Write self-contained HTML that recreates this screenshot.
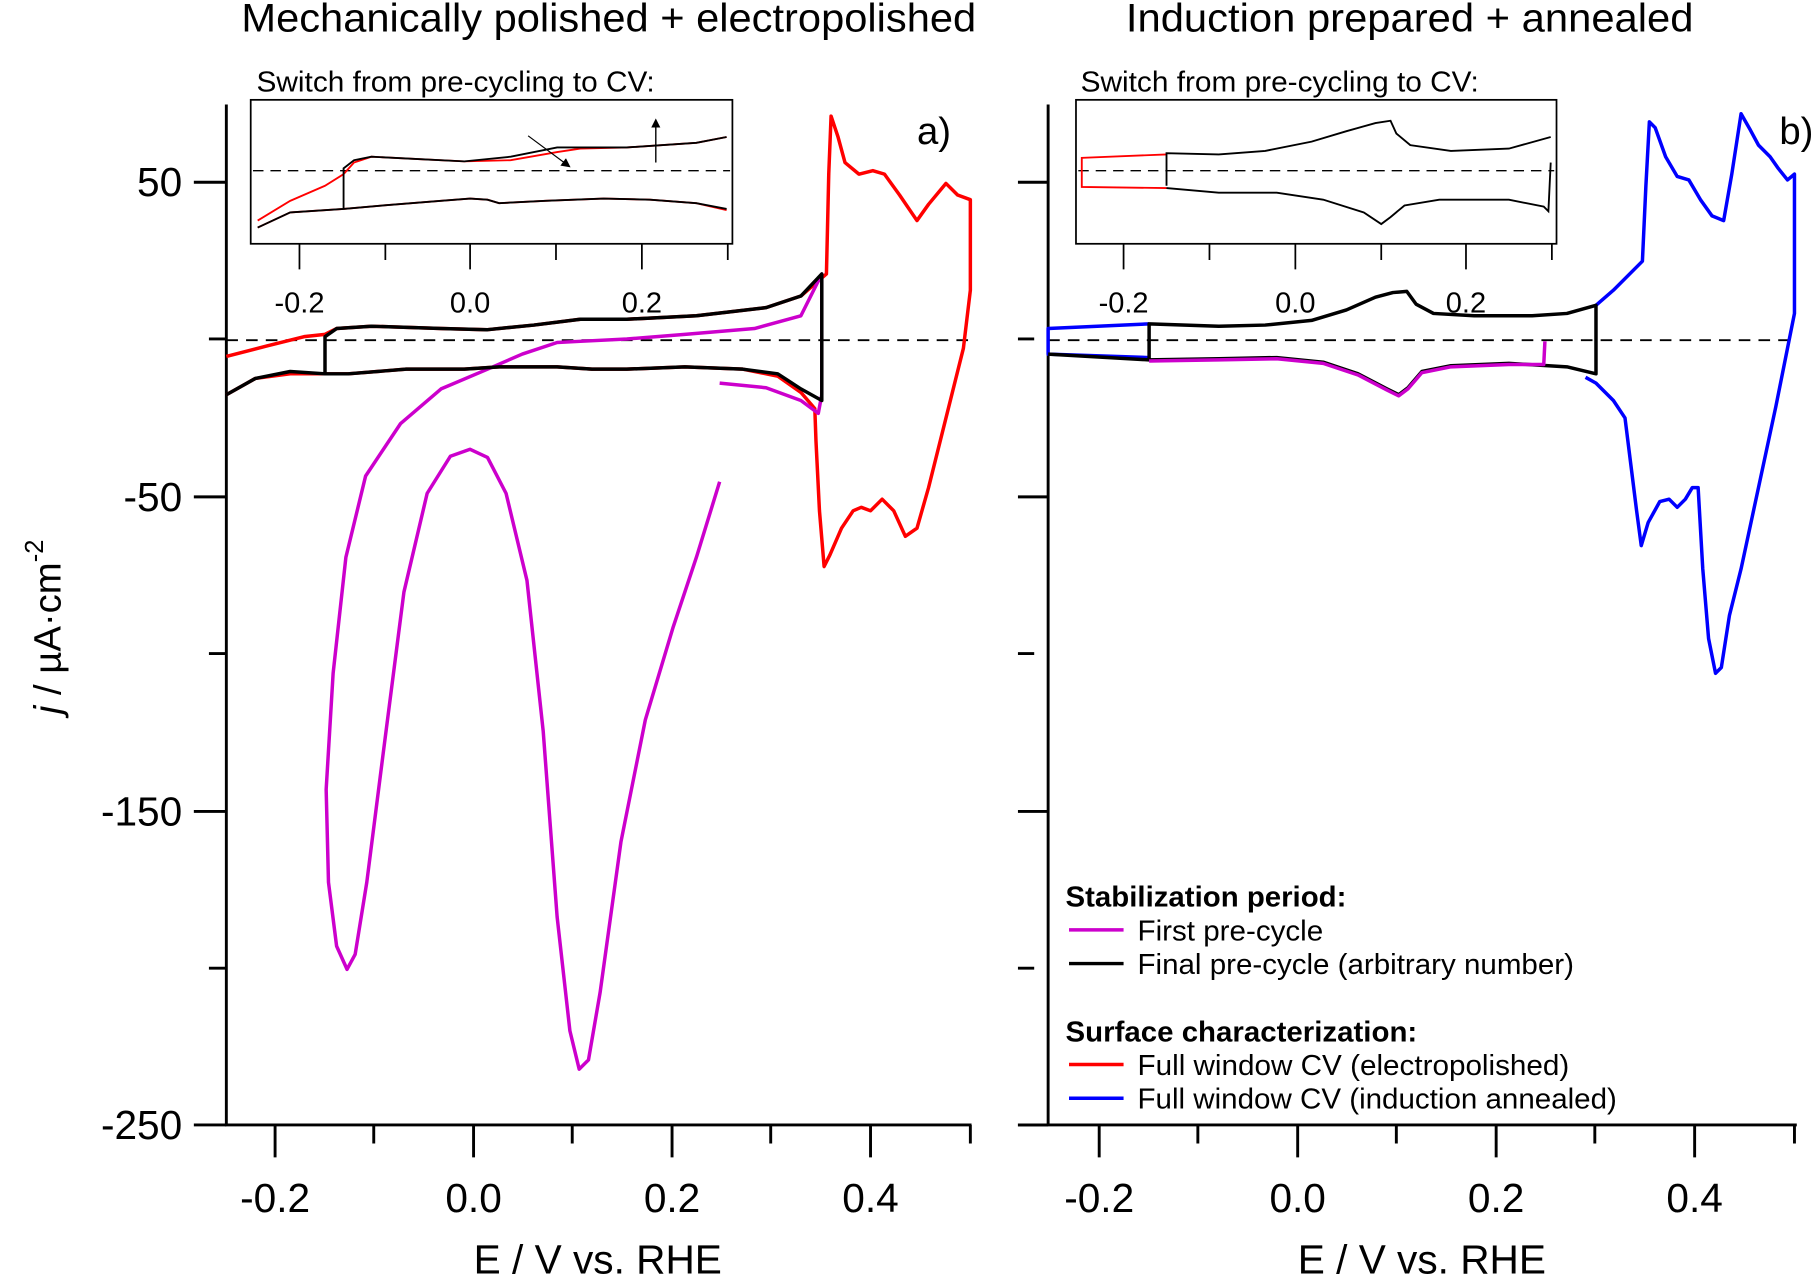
<!DOCTYPE html>
<html><head><meta charset="utf-8"><style>
html,body{margin:0;padding:0;background:#fff;}
svg{display:block;font-family:"Liberation Sans",Arial,sans-serif;}
</style></head><body>
<svg width="1820" height="1277" viewBox="0 0 1568 1100" preserveAspectRatio="none" xmlns="http://www.w3.org/2000/svg">
<defs><marker id="ah" markerWidth="8" markerHeight="8" refX="6" refY="4" orient="auto" markerUnits="userSpaceOnUse"><path d="M0,0 L8,4 L0,8 z" fill="#000"/></marker></defs>
<g fill="#000">
<text x="208" y="27" font-size="34" textLength="633" lengthAdjust="spacingAndGlyphs">Mechanically polished + electropolished</text>
<text x="970" y="27" font-size="34" textLength="489" lengthAdjust="spacingAndGlyphs">Induction prepared + annealed</text>
<text x="221" y="79" font-size="25" textLength="343" lengthAdjust="spacingAndGlyphs">Switch from pre-cycling to CV:</text>
<text x="931" y="79" font-size="25" textLength="343" lengthAdjust="spacingAndGlyphs">Switch from pre-cycling to CV:</text>
<text x="790" y="124" font-size="33">a)</text>
<text x="1533" y="124" font-size="33">b)</text>
</g>
<g stroke="#000" stroke-width="2.5" fill="none">
<path d="M195,90 V969 H837"/>
<path d="M167,157 H195 M180,292 H195 M167,428 H195 M180,563 H195 M167,699 H195 M180,834 H195 M167,969 H195"/>
<path d="M237,969 V997 M322,969 V985 M408,969 V997 M493,969 V985 M579,969 V997 M664,969 V985 M750,969 V997 M836,969 V985"/>
<path d="M903,90 V969 M877,969 H1548"/>
<path d="M877,157 H903 M877,292 H891 M877,428 H903 M877,563 H891 M877,699 H903 M877,834 H891 M877,969 H903"/>
<path d="M947,969 V997 M1032,969 V985 M1118,969 V997 M1203,969 V985 M1289,969 V997 M1374,969 V985 M1460,969 V997 M1546,969 V985"/>
</g>
<g font-size="35" fill="#000">
<text x="157" y="169" text-anchor="end">50</text>
<text x="157" y="440" text-anchor="end">-50</text>
<text x="157" y="711" text-anchor="end">-150</text>
<text x="157" y="981" text-anchor="end">-250</text>
<g text-anchor="middle">
<text x="237" y="1044">-0.2</text><text x="408" y="1044">0.0</text><text x="579" y="1044">0.2</text><text x="750" y="1044">0.4</text>
<text x="947" y="1044">-0.2</text><text x="1118" y="1044">0.0</text><text x="1289" y="1044">0.2</text><text x="1460" y="1044">0.4</text>
<text x="515" y="1097">E / V vs. RHE</text><text x="1225" y="1097">E / V vs. RHE</text>
</g>
<text transform="translate(52,540) rotate(-90)" text-anchor="middle" font-size="33"><tspan font-style="italic">j</tspan> / µA·cm<tspan font-size="22" dy="-15">-2</tspan></text>
</g>
<path d="M195,293 H837 M903,293 H1548" stroke="#000" stroke-width="1.6" stroke-dasharray="10,7"/>
<g fill="none" stroke-width="3" stroke-linejoin="round">
<path stroke="#f00" d="M195,307 L230,298 L262,290 L280,288 L290,283 L320,281 L380,283 L420,284 L460,280 L500,275 L540,275 L600,272 L660,265 L690,255 L712,236 L714,150 L716,100 L722,118 L728,140 L740,150 L752,147 L762,150 L775,168 L790,190 L800,176 L815,158 L825,168 L836,172 L836,250 L830,300 L815,360 L800,420 L790,455 L780,462 L770,440 L760,430 L750,440 L742,437 L735,440 L725,455 L715,478 L710,488 L706,440 L703,380 L702,352 L690,338 L670,324 L640,318 L590,316 L540,318 L510,318 L480,316 L430,316 L400,318 L350,318 L300,322 L250,322 L220,326 L195,340"/>
<path stroke="#c0c" d="M620,330 L660,334 L690,345 L705,356 L708,340 L708,236 L690,272 L650,283 L590,288 L540,292 L500,294 L480,295 L450,305 L420,318 L380,335 L345,365 L315,410 L298,480 L287,580 L281,680 L283,760 L290,815 L299,835 L306,822 L316,760 L330,650 L348,510 L368,425 L388,393 L405,387 L420,394 L436,425 L454,500 L468,630 L480,790 L491,888 L499,921 L507,913 L517,855 L535,725 L556,620 L580,540 L600,480 L620,415"/>
<path stroke="#000" d="M280,322 L280,290 L290,283 L320,281 L380,283 L420,284 L460,280 L500,275 L540,275 L600,272 L660,265 L690,255 L708,236 L708,345 L690,335 L670,322 L640,318 L590,316 L540,318 L510,318 L480,316 L430,316 L400,318 L350,318 L300,322 L280,322 L250,320 L220,326 L195,340"/>
</g>
<g fill="none" stroke-width="3" stroke-linejoin="round">
<path stroke="#00f" d="M990,279 L903,283 L903,305 L990,308 M1375,263 L1390,250 L1415,225 L1418,160 L1421,105 L1426,110 L1435,135 L1445,152 L1455,155 L1465,172 L1475,186 L1485,190 L1492,150 L1500,98 L1508,112 L1515,125 L1525,135 L1532,145 L1540,155 L1546,150 L1546,270 L1540,300 L1530,350 L1515,420 L1500,490 L1490,530 L1483,575 L1478,580 L1472,550 L1467,490 L1463,420 L1458,420 L1452,430 L1445,437 L1438,430 L1430,432 L1420,450 L1414,470 L1410,440 L1405,400 L1400,360 L1390,345 L1375,330 L1366,325"/>
<path stroke="#000" d="M903,305 L990,310 L990,279 L1050,281 L1090,280 L1130,276 L1160,267 L1185,256 L1200,252 L1212,251 L1220,262 L1235,270 L1270,272 L1320,272 L1350,270 L1375,263 L1375,322 L1350,316 L1300,313 L1250,315 L1225,320 L1213,334 L1205,340 L1195,335 L1170,322 L1140,312 L1100,308 L1050,309 L990,310"/>
<path stroke="#c0c" d="M990,311 L1050,310 L1100,309 L1140,313 L1170,323 L1195,336 L1205,341 L1213,335 L1225,321 L1250,316 L1300,314 L1330,314 L1331,294"/>
</g>
<rect x="216" y="86" width="415" height="124" fill="#fff" stroke="#000" stroke-width="1.5"/>
<rect x="927" y="86" width="414" height="124" fill="#fff" stroke="#000" stroke-width="1.5"/>
<g stroke="#000" stroke-width="1.5" fill="none">
<path d="M258,210 V232 M332,210 V224 M405,210 V232 M479,210 V224 M553,210 V232 M627,210 V224"/>
<path d="M968,210 V232 M1042,210 V224 M1116,210 V232 M1190,210 V224 M1263,210 V232 M1337,210 V224"/>
<path d="M218,147 H629 M929,147 H1339" stroke-dasharray="9,6" stroke-width="1.2"/>
</g>
<g font-size="25" text-anchor="middle" fill="#000">
<text x="258" y="269">-0.2</text><text x="405" y="269">0.0</text><text x="553" y="269">0.2</text>
<text x="968" y="269">-0.2</text><text x="1116" y="269">0.0</text><text x="1263" y="269">0.2</text>
</g>
<g fill="none" stroke-width="1.6">
<path stroke="#f00" d="M222,190 L250,173 L280,160 L296,150 L305,140 L320,135 L360,137 L400,139 L440,138 L480,131 L500,128 L540,127 L600,123 L626,118 M222,196 L250,183 L296,180 L330,177 L380,173 L405,171 L420,172 L430,175 L470,173 L520,171 L560,172 L600,175 L626,181"/>
<path stroke="#000" d="M296,180 L296,145 L305,138 L320,135 L360,137 L400,139 L440,135 L480,127 L500,127 L540,127 L600,123 L626,118 M222,196 L250,183 L296,180 L330,177 L380,173 L405,171 L420,172 L430,175 L470,173 L520,171 L560,172 L600,175 L626,180"/>
<path stroke="#000" stroke-width="1" d="M455,117 L490,143" marker-end="url(#ah)"/>
<path stroke="#000" stroke-width="1.2" d="M565,140 L565,104" marker-end="url(#ah)"/>
<path stroke="#f00" d="M1005,133 L932,136 L932,161 L1005,162"/>
<path stroke="#000" d="M1005,160 L1005,132 L1050,133 L1090,130 L1130,122 L1160,113 L1185,106 L1198,104 L1203,115 L1215,125 L1250,130 L1300,128 L1336,118 M1005,162 L1050,166 L1100,166 L1140,172 L1175,183 L1190,193 L1198,187 L1210,177 L1240,172 L1300,172 L1330,178 L1334,182 L1336,140"/>
</g>
<g font-size="25" fill="#000">
<text x="918" y="781" font-weight="bold" textLength="242" lengthAdjust="spacingAndGlyphs">Stabilization period:</text>
<text x="980" y="810" textLength="160" lengthAdjust="spacingAndGlyphs">First pre-cycle</text>
<text x="980" y="839" textLength="376" lengthAdjust="spacingAndGlyphs">Final pre-cycle (arbitrary number)</text>
<text x="918" y="897" font-weight="bold" textLength="303" lengthAdjust="spacingAndGlyphs">Surface characterization:</text>
<text x="980" y="926" textLength="372" lengthAdjust="spacingAndGlyphs">Full window CV (electropolished)</text>
<text x="980" y="955" textLength="413" lengthAdjust="spacingAndGlyphs">Full window CV (induction annealed)</text>
</g>
<g stroke-width="3">
<path d="M921,801 H968" stroke="#c0c"/>
<path d="M921,830 H968" stroke="#000"/>
<path d="M921,917 H968" stroke="#f00"/>
<path d="M921,946 H968" stroke="#00f"/>
</g>
</svg>
</body></html>
